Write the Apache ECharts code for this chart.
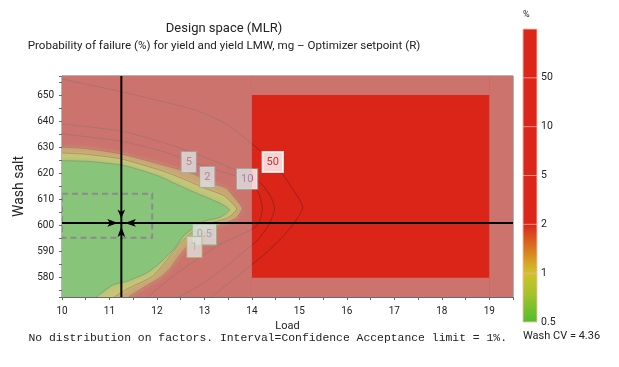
<!DOCTYPE html>
<html><head><meta charset="utf-8">
<script src="https://cdn.jsdelivr.net/npm/echarts@6/dist/echarts.min.js"></script>
<style>html,body{margin:0;padding:0;background:#fff}#c{width:619px;height:367px}</style>
</head><body><div id="c"></div>
<script>
// ---------- data ----------
const loadRange = [10, 19.5];          // x axis (Load)
const saltRange = [572.6, 657.3];      // y axis (Wash salt)
const levelValues = ['0.5', '1', '2', '5', '10', '50'];   // contour levels (%)
const colorbarLabels = ['0.5', '1', '2', '5', '10', '50'];

// contour lines (Load, Wash salt), lower branch -> tip -> upper branch
const contour0_5 = [[10.72,572.6],[11.07,577.3],[11.36,578.6],[11.78,581.8],[12.06,585.6],[12.34,590.7],[12.58,596.4],[12.97,601.5],[13.32,603.1],[13.53,606],[13.32,608.6],[12.83,612.4],[12.47,615.3],[12.06,618.8],[11.57,621.7],[11.25,623.2],[10.6,624.5],[10,624.9]];
const contour1 = [[11.1,572.6],[11.35,575.5],[11.9,580.5],[12.2,586.5],[12.45,592.5],[12.75,597.5],[13.1,600.8],[13.5,603],[13.68,606.3],[13.42,611.3],[13.0,614.3],[12.6,617.5],[12.1,621],[11.25,625.5],[10.5,627.3],[10,627.8]];
const contour2 = [[11.4,572.6],[11.6,575],[12.06,580],[12.25,583],[12.48,588.8],[12.76,594.5],[13.25,599.6],[13.67,602.8],[13.8,606.5],[13.46,614.3],[13.18,616],[12.76,619.8],[12.16,623],[11.25,627.4],[10.5,629.5],[10,630]];
const contour5 = [[11.8,572.6],[12.3,580],[12.8,586.5],[13.3,592.5],[13.7,596],[14.0,598.5],[14.15,601],[14.22,606.7],[14.15,612],[14.0,616.5],[13.75,618.5],[13.3,621],[12.67,624.8],[12.16,628.2],[11.25,632.3],[10,635.1]];
const contour10 = [[12.45,572.6],[12.9,577],[13.4,583.5],[13.9,591],[14.1,594],[14.35,600],[14.48,606.7],[14.4,611],[14.2,616],[13.9,619.6],[13.5,622.5],[12.9,627],[12.16,631.6],[11.25,636.2],[10,638.9]];
const contour50 = [[13.15,572.6],[13.55,578.5],[14.0,585],[14.3,589.5],[14.65,595.7],[14.85,600],[15.07,606.8],[14.75,617],[14.44,624.5],[14.0,631.3],[13.46,639],[12.75,644.6],[12.0,648],[11.0,652.3],[10,656.1]];

// contour label boxes: text, Load, Wash salt
const labelText = ['0.5', '1', '2', '5', '10', '50'];
const labelLoad = [13.0, 12.79, 13.06, 12.67, 13.9, 14.44];
const labelSalt = [596.6, 591.8, 618.6, 624.3, 617.8, 624.3];

// design region (Load, Wash salt)
const designLoad = [14, 19];
const designSalt = [580, 650];

// optimizer setpoint and its interval box
const setpoint = [11.25, 601.0];
const intervalLoad = [10, 11.9];
const intervalSalt = [595.3, 612.2];

const washCV = '4.36';

// ---------- chart ----------
const contours = [contour0_5, contour1, contour2, contour5, contour10, contour50];
const chart = echarts.init(document.getElementById('c'), null, {renderer: 'canvas'});
const FONT = 'Roboto';

const fillOrder = [2, 1, 0];   // draw 2% region, then 1%, then 0.5%
const fillColor = {2: '#d98524', 1: '#d2c82a', 0: '#54c834'};
const fillBlur = {2: 4, 1: 5, 0: 5};

const labelStyle = {
  '0.5': {color: '#4f8f80', borderColor: '#58b858'},
  '1':   {color: '#c39a00', borderColor: '#c0a838'},
  '2':   {color: '#7c2060', borderColor: '#8e8e8e'},
  '5':   {color: '#a02840', borderColor: '#8e8e8e'},
  '10':  {color: '#8c1c8c', borderColor: '#8e8e8e'},
  '50':  {color: '#a31515', borderColor: '#ffffff'}
};

const series = [];

// filled contour regions
series.push({
  type: 'custom', xAxisIndex: 0, yAxisIndex: 0, z: 1, clip: true, silent: true,
  data: [[loadRange[0], saltRange[0]]],
  renderItem: function (params, api) {
    const children = [];
    const p0 = api.coord([loadRange[0], saltRange[0]]);
    const p1 = api.coord([loadRange[1], saltRange[1]]);
    children.push({type: 'rect', shape: {x: p0[0], y: p1[1], width: p1[0] - p0[0], height: p0[1] - p1[1]}, style: {fill: '#dc2519'}});
    fillOrder.forEach(function (i) {
      const pts = contours[i].concat([[loadRange[0], saltRange[0]]]).map(function (p) { return api.coord(p); });
      children.push({type: 'polygon', shape: {points: pts}, style: {fill: fillColor[i], shadowBlur: fillBlur[i], shadowColor: fillColor[i]}});
    });
    return {type: 'group', children: children};
  }
});

// contour lines
contours.forEach(function (c, i) {
  series.push({
    type: 'line', xAxisIndex: 0, yAxisIndex: 0, z: 2, silent: true,
    data: c, showSymbol: false, smooth: 0.2, clip: true,
    lineStyle: {color: 'rgba(80,30,25,0.45)', width: 1}
  });
});

// contour labels
series.push({
  type: 'scatter', xAxisIndex: 0, yAxisIndex: 0, z: 3, silent: true, symbolSize: 0,
  data: labelText.map(function (t, i) {
    const s = labelStyle[t];
    return {
      value: [labelLoad[i], labelSalt[i]],
      label: {
        show: true, position: 'inside', formatter: t, fontFamily: FONT, fontSize: 11,
        color: s.color, backgroundColor: '#ffffff', borderColor: s.borderColor, borderWidth: 1,
        padding: [4, 4, 3, 4], lineHeight: 13
      }
    };
  })
});

// grey veil outside the design region
series.push({
  type: 'custom', xAxisIndex: 0, yAxisIndex: 0, z: 4, clip: true, silent: true,
  data: [[loadRange[0], saltRange[0]]],
  renderItem: function (params, api) {
    const veil = 'rgba(188,193,193,0.5)';
    const rects = [
      [loadRange[0], designLoad[0], saltRange[0], saltRange[1]],
      [designLoad[1], loadRange[1], saltRange[0], saltRange[1]],
      [designLoad[0], designLoad[1], designSalt[1], saltRange[1]],
      [designLoad[0], designLoad[1], saltRange[0], designSalt[0]]
    ];
    return {type: 'group', children: rects.map(function (r) {
      const a = api.coord([r[0], r[3]]);
      const b = api.coord([r[1], r[2]]);
      return {type: 'rect', shape: {x: a[0], y: a[1], width: b[0] - a[0], height: b[1] - a[1]}, style: {fill: veil}};
    })};
  }
});

// setpoint crosshair, arrows and interval box
series.push({
  type: 'custom', xAxisIndex: 0, yAxisIndex: 0, z: 5, clip: true, silent: true,
  data: [setpoint],
  renderItem: function (params, api) {
    const c = api.coord(setpoint);
    const cx = c[0], cy = c[1];
    const top = api.coord([setpoint[0], saltRange[1]]);
    const bot = api.coord([setpoint[0], saltRange[0]]);
    const lft = api.coord([loadRange[0], setpoint[1]]);
    const rgt = api.coord([loadRange[1], setpoint[1]]);
    const b0 = api.coord([intervalLoad[0], intervalSalt[1]]);
    const b1 = api.coord([intervalLoad[1], intervalSalt[0]]);
    const ln = {stroke: '#000', lineWidth: 2};
    return {type: 'group', children: [
      {type: 'rect', shape: {x: b0[0], y: b0[1], width: b1[0] - b0[0], height: b1[1] - b0[1]},
        style: {fill: 'none', stroke: '#8a8a8a', lineWidth: 2, lineDash: [6, 4]}},
      {type: 'line', shape: {x1: top[0], y1: top[1], x2: bot[0], y2: bot[1]}, style: ln},
      {type: 'line', shape: {x1: lft[0], y1: lft[1], x2: rgt[0], y2: rgt[1]}, style: ln},
      {type: 'polygon', shape: {points: [[cx - 3.5, cy], [cx - 14, cy - 3.8], [cx - 11.5, cy], [cx - 14, cy + 3.8]]}, style: {fill: '#000'}},
      {type: 'polygon', shape: {points: [[cx + 3.5, cy], [cx + 14.5, cy - 3.8], [cx + 12, cy], [cx + 14.5, cy + 3.8]]}, style: {fill: '#000'}},
      {type: 'polygon', shape: {points: [[cx, cy - 4.5], [cx - 3.8, cy - 13.5], [cx, cy - 11], [cx + 3.8, cy - 13.5]]}, style: {fill: '#000'}},
      {type: 'polygon', shape: {points: [[cx, cy + 3.7], [cx - 3.8, cy + 14], [cx, cy + 11.5], [cx + 3.8, cy + 14]]}, style: {fill: '#000'}}
    ]};
  }
});

// colour bar
series.push({
  type: 'custom', xAxisIndex: 1, yAxisIndex: 1, z: 2, silent: true,
  data: [[0, 0]],
  renderItem: function (params, api) {
    const a = api.coord([0, colorbarLabels.length]);
    const b = api.coord([1, 0]);
    const children = [{
      type: 'rect', shape: {x: a[0], y: a[1], width: b[0] - a[0], height: b[1] - a[1]},
      style: {
        fill: new echarts.graphic.LinearGradient(0, 0, 0, 1, [
          {offset: 0, color: '#dc2619'}, {offset: 0.667, color: '#dc2619'},
          {offset: 0.70, color: '#da4a1e'}, {offset: 0.75, color: '#d8781f'},
          {offset: 0.80, color: '#d4a824'}, {offset: 0.833, color: '#cdc42a'},
          {offset: 0.9, color: '#a8c22a'}, {offset: 1, color: '#4cc02c'}
        ]),
        stroke: 'rgba(250,190,180,0.9)', lineWidth: 1
      }
    }];
    for (let i = 1; i < colorbarLabels.length; i++) {
      const p = api.coord([0, i]);
      children.push({type: 'line', shape: {x1: a[0], y1: p[1], x2: b[0], y2: p[1]}, style: {stroke: 'rgba(255,170,160,0.8)', lineWidth: 1}});
    }
    return {type: 'group', children: children};
  }
});

const axisLineStyle = {color: '#6a6a6a', width: 1};
const option = {
  animation: false,
  backgroundColor: '#ffffff',
  grid: [
    {left: 62, right: 106, top: 76, bottom: 70, show: true, borderColor: '#6a6a6a', borderWidth: 1, backgroundColor: 'transparent'},
    {left: 523, right: 82, top: 29, bottom: 45, show: false}
  ],
  xAxis: [
    {
      type: 'value', gridIndex: 0, min: loadRange[0], max: loadRange[1], interval: 1,
      name: 'Load', nameLocation: 'middle', nameGap: 24,
      nameTextStyle: {fontFamily: FONT, fontSize: 11, color: '#222'},
      axisLine: {show: true, lineStyle: axisLineStyle},
      axisTick: {show: true, length: 3, lineStyle: axisLineStyle},
      minorTick: {show: true, splitNumber: 2, length: 3, lineStyle: axisLineStyle},
      axisLabel: {fontFamily: FONT, fontSize: 10, color: '#222', margin: 9, showMaxLabel: false, showMinLabel: true},
      splitLine: {show: false}, minorSplitLine: {show: false}
    },
    {type: 'value', gridIndex: 1, min: 0, max: 1, show: false}
  ],
  yAxis: [
    {
      type: 'value', gridIndex: 0, min: saltRange[0], max: saltRange[1],
      splitNumber: 8, minInterval: 10, maxInterval: 10,
      name: 'Wash salt', nameLocation: 'middle', nameGap: 32,
      nameTextStyle: {fontFamily: FONT, fontSize: 14, color: '#222'},
      axisLine: {show: true, lineStyle: axisLineStyle},
      axisTick: {show: true, length: 3, lineStyle: axisLineStyle},
      minorTick: {show: true, splitNumber: 2, length: 3, lineStyle: axisLineStyle},
      axisLabel: {fontFamily: FONT, fontSize: 10, color: '#222', margin: 8, showMinLabel: false, showMaxLabel: false},
      splitLine: {show: false}, minorSplitLine: {show: false}
    },
    {
      type: 'value', gridIndex: 1, min: 0, max: colorbarLabels.length, interval: 1, position: 'right',
      axisLine: {show: false}, axisTick: {show: false}, splitLine: {show: false},
      axisLabel: {fontFamily: FONT, fontSize: 10.5, color: '#222', margin: 4,
        formatter: function (v) { return colorbarLabels[v] !== undefined ? colorbarLabels[v] : ''; }}
    }
  ],
  graphic: [
    {type: 'text', x: 224, y: 28.5, silent: true, style: {text: 'Design space (MLR)', font: '13px ' + FONT, fill: '#222', align: 'center', verticalAlign: 'middle'}},
    {type: 'text', x: 224, y: 46.5, silent: true, style: {text: 'Probability of failure (%) for yield and yield LMW, mg \u2013 Optimizer setpoint (R)', font: '11.6px ' + FONT, fill: '#222', align: 'center', verticalAlign: 'middle'}},
    {type: 'text', x: 523, y: 15, silent: true, style: {text: '%', font: '9px ' + FONT, fill: '#222', align: 'left', verticalAlign: 'middle'}},
    {type: 'text', x: 523, y: 336, silent: true, style: {text: 'Wash CV = ' + washCV, font: '11px ' + FONT, fill: '#222', align: 'left', verticalAlign: 'middle'}},
    {type: 'text', x: 28.5, y: 338, silent: true, style: {text: 'No distribution on factors. Interval=Confidence Acceptance limit = 1%.', font: '11.4px "Liberation Mono"', fill: '#222', align: 'left', verticalAlign: 'middle'}}
  ],
  series: series
};
chart.setOption(option);
</script>
</body></html>
